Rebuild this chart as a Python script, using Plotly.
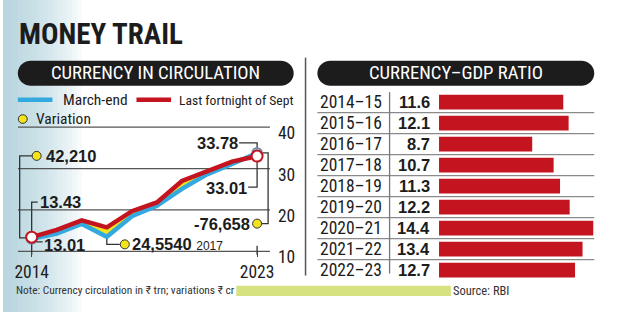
import plotly.graph_objects as go

# ---------------- data ----------------
years = [2014, 2015, 2016, 2017, 2018, 2019, 2020, 2021, 2022, 2023]
march_end = [13.01, 14.3, 16.6, 13.5, 18.5, 21.0, 25.1, 28.6, 31.1, 33.78]
sept_fortnight = [13.43, 15.2, 17.5, 15.8, 19.7, 21.8, 27.0, 29.4, 31.7, 33.01]
y_ticks = [10, 20, 30, 40]
x_ticks = [2014, 2023]

fiscal_years = ["2014–15", "2015–16", "2016–17", "2017–18", "2018–19",
                "2019–20", "2020–21", "2021–22", "2022–23"]
gdp_ratio = [11.6, 12.1, 8.7, 10.7, 11.3, 12.2, 14.4, 13.4, 12.7]

# ---------------- styles ----------------
W, H = 620, 325
BLUE = "#33a9e0"
RED = "#c3141f"
YELLOW = "#f3e31c"
DARK = "#1c1c1c"
NARROW = "Liberation Sans Narrow, Arial Narrow, Roboto Condensed, sans-serif"
SANS = "Liberation Sans, Arial, sans-serif"


def px(x):
    return x / W


def py(y):
    return 1 - y / H


def pill(x0, x1, y0, y1):
    import math
    r = (y1 - y0) / 2
    cy = (y0 + y1) / 2
    pts = []
    for i in range(0, 19):
        a = -math.pi / 2 + math.pi * i / 18
        pts.append((x1 - r + r * math.cos(a), cy + r * math.sin(a)))
    for i in range(0, 19):
        a = math.pi / 2 + math.pi * i / 18
        pts.append((x0 + r + r * math.cos(a), cy + r * math.sin(a)))
    d = "M " + " L ".join(f"{px(a):.5f},{py(b):.5f}" for a, b in pts) + " Z"
    return d


xr0 = 2014 - 14 / 25.33
xr1 = 2023 + 13 / 25.33

fig = go.Figure()

fig.add_trace(go.Scatter(x=years, y=march_end, mode="lines",
                         line=dict(color=BLUE, width=4.5), xaxis="x", yaxis="y",
                         hoverinfo="skip"))
fig.add_trace(go.Scatter(x=years, y=sept_fortnight, mode="lines", fill="tonexty",
                         fillcolor=YELLOW, line=dict(color=RED, width=4.5),
                         xaxis="x", yaxis="y", hoverinfo="skip"))
ends = [0, len(years) - 1]
fig.add_trace(go.Scatter(x=[years[i] for i in ends], y=[march_end[i] for i in ends],
                         mode="markers",
                         marker=dict(size=10, color="#a9c6d9",
                                     line=dict(color="#6d8ba3", width=1.5)),
                         xaxis="x", yaxis="y", hoverinfo="skip"))
fig.add_trace(go.Scatter(x=[years[i] for i in ends], y=[sept_fortnight[i] for i in ends],
                         mode="markers",
                         marker=dict(size=11, color="white",
                                     line=dict(color=RED, width=2)),
                         xaxis="x", yaxis="y", hoverinfo="skip"))

fig.add_trace(go.Bar(x=gdp_ratio, y=fiscal_years, orientation="h",
                     marker=dict(color=RED, line=dict(width=0)), width=0.7,
                     xaxis="x2", yaxis="y2", hoverinfo="skip"))

shapes = []
annotations = []

for i in range(1, 17):
    shapes.append(dict(type="rect", xref="paper", yref="paper", x0=0, x1=px(5 * i),
                       y0=0, y1=1, fillcolor="rgba(160,210,212,0.08)",
                       line=dict(width=0), layer="below"))

# horizontal grid lines at the y tick values (drawn on the y scale)
for t in y_ticks:
    shapes.append(dict(type="line", xref="x", yref="y", x0=xr0, x1=xr1, y0=t, y1=t,
                       line=dict(color="#555", width=1.3), layer="between"))

annotations.append(dict(text="<b>MONEY TRAIL</b>", x=px(14), y=py(35), xref="paper",
                        yref="paper", xanchor="left", yanchor="middle", showarrow=False,
                        font=dict(family=NARROW, size=29, color=DARK)))

for (x0, x1, label) in [(15, 294, "CURRENCY IN CIRCULATION"),
                        (318, 598, "CURRENCY–GDP RATIO")]:
    shapes.append(dict(type="path", xref="paper", yref="paper", path=pill(x0, x1, 63.3, 89.3),
                       fillcolor=DARK, line=dict(width=0)))
    annotations.append(dict(text=label, x=px((x0 + x1) / 2), y=py(76.5), xref="paper",
                            yref="paper", xanchor="center", yanchor="middle",
                            showarrow=False,
                            font=dict(family=NARROW, size=18.7, color="white")))

shapes.append(dict(type="line", xref="paper", yref="paper", x0=px(306), x1=px(306),
                   y0=py(60), y1=py(287), line=dict(color="#555", width=1.5)))

shapes.append(dict(type="line", xref="paper", yref="paper", x0=px(15), x1=px(50),
                   y0=py(104), y1=py(104), line=dict(color=BLUE, width=4.5)))
shapes.append(dict(type="line", xref="paper", yref="paper", x0=px(135), x1=px(170),
                   y0=py(104), y1=py(104), line=dict(color=RED, width=4.5)))
shapes.append(dict(type="circle", xref="paper", yref="paper", x0=px(15.5), x1=px(24.5),
                   y0=py(119.5), y1=py(128.5), fillcolor=YELLOW,
                   line=dict(color="#333", width=1)))
for (x, y, t, s) in [(59, 104, "March-end", 15.5), (176, 104, "Last fortnight of Sept", 13.6),
                     (31, 124, "Variation", 15.5)]:
    annotations.append(dict(text=t, x=px(x), y=py(y), xref="paper", yref="paper",
                            xanchor="left", yanchor="middle", showarrow=False,
                            font=dict(family=NARROW, size=s, color=DARK)))

LC = dict(color="#333", width=1.3)


def pline(xa, ya, pts):
    d = "M " + " L ".join(f"{a},{b}" for a, b in pts)
    shapes.append(dict(type="path", xref="x", yref="y", xsizemode="pixel",
                       ysizemode="pixel", xanchor=xa, yanchor=ya, path=d, line=LC,
                       layer="between"))


def pdot(xa, ya, dx, dy):
    shapes.append(dict(type="circle", xref="x", yref="y", xsizemode="pixel",
                       ysizemode="pixel", xanchor=xa, yanchor=ya,
                       x0=dx - 4.5, x1=dx + 4.5, y0=dy - 4.5, y1=dy + 4.5,
                       fillcolor=YELLOW, line=dict(color="#333", width=1)))


def plabel(xa, ya, dx, dy, text, anchor):
    annotations.append(dict(text=text, x=xa, y=ya, xref="x", yref="y", xshift=dx,
                            yshift=dy, xanchor=anchor, yanchor="middle", showarrow=False,
                            font=dict(family=SANS, size=16.5, color=DARK)))


y0, y9 = years[0], years[-1]
pline(y0, march_end[0], [(5, 83), (-12, 83), (-12, 1), (-5, 1)])
pdot(y0, march_end[0], 5, 83)
plabel(y0, march_end[0], 12, 83, "<b>42,210</b>", "left")
pline(y0, sept_fortnight[0], [(6, 35), (0, 35), (0, -21)])
plabel(y0, sept_fortnight[0], 6, 35, "<b>13.43</b>", "left")
pline(y0, march_end[0], [(3, -3), (11, -3)])
plabel(y0, march_end[0], 10, -6, "<b>13.01</b>", "left")
i17 = years.index(2017)
pline(2017, march_end[i17], [(0, 0), (0, -7.5), (13, -7.5)])
pdot(2017, march_end[i17], 18, -7.5)
plabel(2017, march_end[i17], 23, -7.5,
       "<b>24,5540</b> <span style='font-size:12px'>2017</span>", "left")
pline(y9, march_end[-1], [(-18, 10), (0, 10), (0, 5)])
plabel(y9, march_end[-1], -17, 10, "<b>33.78</b>", "right")
pline(y9, sept_fortnight[-1], [(-9, -31), (0, -31), (0, -5.5)])
plabel(y9, sept_fortnight[-1], -8, -31.5, "<b>33.01</b>", "right")
pline(y9, sept_fortnight[-1], [(0, -67.5), (11, -67.5), (11, 3.3), (4, 3.3)])
pdot(y9, sept_fortnight[-1], 0, -67.5)
plabel(y9, sept_fortnight[-1], -5, -67.5, "<b>-76,658</b>", "right")
pline(y9, y_ticks[0], [(0, 5.5), (0, -4.5)])

for i, (fy, v) in enumerate(zip(fiscal_years, gdp_ratio)):
    annotations.append(dict(text=fy, x=px(319), y=fy, xref="paper", yref="y2",
                            xanchor="left", yanchor="middle", showarrow=False,
                            font=dict(family=NARROW, size=17.5, color=DARK)))
    annotations.append(dict(text=f"<b>{v:.1f}</b>", x=px(434), y=fy, xref="paper",
                            yref="y2", xanchor="right", yanchor="middle", showarrow=False,
                            font=dict(family=SANS, size=16.5, color=DARK)))
for i in range(len(fiscal_years) - 1):
    shapes.append(dict(type="line", xref="paper", yref="y2", x0=px(318), x1=px(598),
                       y0=i + 0.5, y1=i + 0.5, line=dict(color="#8a8a8a", width=1.3)))
shapes.append(dict(type="line", xref="paper", yref="paper", x0=px(391), x1=px(391),
                   y0=py(96), y1=py(285), line=dict(color="#777", width=1.3)))

annotations.append(dict(text="Note: Currency circulation in ₹ trn; variations ₹ cr",
                        x=px(11), y=py(302.5), xref="paper", yref="paper", xanchor="left",
                        yanchor="middle", showarrow=False,
                        font=dict(family=NARROW, size=11.4, color="#333")))
shapes.append(dict(type="rect", xref="paper", yref="paper", x0=px(236), x1=px(453),
                   y0=py(308.3), y1=py(297.7), fillcolor="#d5e27f", line=dict(width=0)))
annotations.append(dict(text="Source: RBI", x=px(453.5), y=py(302.5), xref="paper",
                        yref="paper", xanchor="left", yanchor="middle", showarrow=False,
                        font=dict(family=NARROW, size=12.5, color="#333")))

# y axis: 10 -> 261.8 px, 40 -> 132.5 px
ppu = (261.8 - 132.5) / 30
pad = 0.8
fig.update_layout(
    width=W, height=H, margin=dict(l=0, r=0, t=0, b=0),
    paper_bgcolor="white", plot_bgcolor="rgba(0,0,0,0)", showlegend=False,
    xaxis=dict(domain=[px(15), px(270)], range=[xr0, xr1], tickvals=x_ticks,
               ticktext=[str(t) for t in x_ticks], ticks="outside", ticklen=5,
               tickcolor="#444", tickwidth=1.3, showgrid=False, zeroline=False,
               showline=False, anchor="free", position=py(261.8),
               tickfont=dict(family=NARROW, size=17.5, color=DARK)),
    yaxis=dict(domain=[py(261.8 + pad * ppu), py(132.5 - pad * ppu)],
               range=[10 - pad, 40 + pad], tickvals=y_ticks,
               side="right", showgrid=False, zeroline=False, showline=False,
               ticks="", ticklabelshift=6, ticklabelstandoff=7, anchor="x",
               tickfont=dict(family=NARROW, size=17.5, color=DARK)),
    xaxis2=dict(domain=[px(441), px(600)], range=[0, 159 / 10.833], visible=False,
                anchor="y2"),
    yaxis2=dict(domain=[py(293.8), py(93.9)], type="category",
                categoryorder="array", categoryarray=fiscal_years,
                autorange="reversed", visible=False, anchor="x2"),
    shapes=shapes, annotations=annotations,
)

fig.write_html("out.html")
